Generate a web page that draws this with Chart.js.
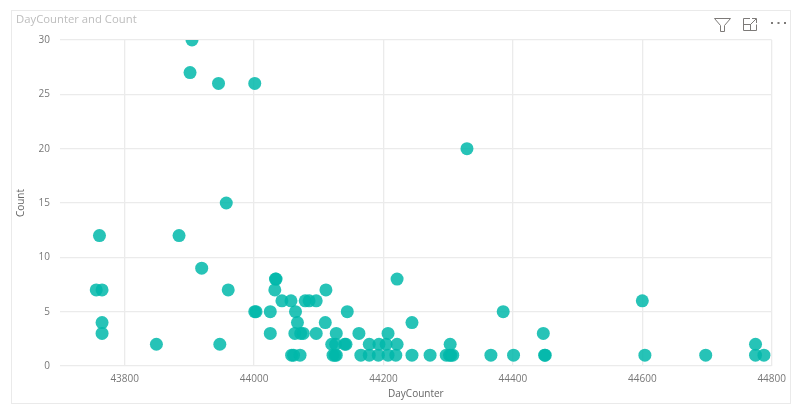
<!DOCTYPE html>
<html>
<head>
<meta charset="utf-8">
<title>DayCounter and Count</title>
<script src="https://cdn.jsdelivr.net/npm/chart.js@4"></script>
<style>
	html, body { margin: 0; padding: 0; background: #fff; }
	#wrap { position: relative; width: 804px; height: 416px; overflow: hidden; }
	#card { position: absolute; left: 11px; top: 10px; width: 778px; height: 392px; border: 1px solid #eaeaea; }
	#mycanvas { position: absolute; left: 0; top: 0; }
	#title { position: absolute; left: 16px; top: 11px; font: 11.3px "Open Sans", sans-serif; color: #bdbdbd; }
	#icons { position: absolute; left: 712px; top: 16px; }
</style>
</head>
<body>
<div id="wrap">
	<div id="card"></div>
	<canvas id="mycanvas" width="804" height="416"></canvas>
	<div id="title">DayCounter and Count</div>
	<svg id="icons" width="76" height="18" fill="none" stroke="#7d7a78" stroke-width="1">
		<path d="M2.5 2.5H18.5L12.5 9.5V15.5H8.5V9.5Z"/>
		<path d="M38 2.5H31.5V14.5H44.5V8.5M31.5 8.5H38.5V14.5M38 9L44 3M40 2.5H44.5V7"/>
		<g fill="#7d7a78" stroke="none">
			<rect x="59" y="6" width="2" height="2"/>
			<rect x="65.5" y="6" width="2" height="2"/>
			<rect x="72" y="6" width="2" height="2"/>
		</g>
	</svg>
</div>
<script>
var xTicks = [43800, 44000, 44200, 44400, 44600, 44800];
var yTicks = [0, 5, 10, 15, 20, 25, 30];

var dayCounter = [
	43904, 43901, 43945, 44001, 44329, 43957, 43761, 43884, 43919,
	43756, 43765, 43960, 43765, 43765, 43849, 43947,
	44033, 44034, 44221, 44032, 44111,
	44043, 44057, 44079, 44085, 44096,
	44001, 44003, 44025, 44064, 44144, 44385, 44600,
	44067, 44110, 44244,
	44025, 44063, 44072, 44076, 44096, 44127, 44162, 44207, 44447,
	44120, 44126, 44140, 44142, 44178, 44193, 44204, 44221, 44303, 44775,
	44058, 44061, 44071, 44122, 44125, 44127, 44165, 44178, 44192, 44207, 44219,
	44244, 44272, 44297, 44302, 44304, 44307, 44366, 44401, 44449, 44450,
	44604, 44698, 44775, 44788
];
var count = [
	30, 27, 26, 26, 20, 15, 12, 12, 9,
	7, 7, 7, 4, 3, 2, 2,
	8, 8, 8, 7, 7,
	6, 6, 6, 6, 6,
	5, 5, 5, 5, 5, 5, 6,
	4, 4, 4,
	3, 3, 3, 3, 3, 3, 3, 3, 3,
	2, 2, 2, 2, 2, 2, 2, 2, 2, 2,
	1, 1, 1, 1, 1, 1, 1, 1, 1, 1, 1,
	1, 1, 1, 1, 1, 1, 1, 1, 1, 1,
	1, 1, 1, 1
];

var points = [];
for(var i in dayCounter) {
	points.push({ x: dayCounter[i], y: count[i] });
}

var tickFont = { family: '"Open Sans", sans-serif', size: 10 };

var ctx = document.getElementById("mycanvas");
var chart = new Chart(ctx, {
	type: 'scatter',
	data: {
		datasets: [{
			label: 'Count',
			data: points,
			backgroundColor: 'rgba(1, 184, 170, 0.85)',
			borderWidth: 0,
			pointRadius: 6.5,
			pointHoverRadius: 6.5,
			clip: 0
		}]
	},
	options: {
		responsive: false,
		animation: false,
		layout: { padding: { top: 40, right: 32.3, left: 15, bottom: 16 } },
		plugins: { legend: { display: false }, tooltip: { enabled: false } },
		scales: {
			x: {
				type: 'linear',
				min: 43700,
				max: 44800,
				afterBuildTicks: function(scale) {
					scale.ticks = xTicks.map(function(v) { return { value: v }; });
				},
				afterFit: function(scale) { scale.height = 34; },
				grid: { color: '#ebebeb', lineWidth: 1.3, drawTicks: false },
				border: { display: false },
				ticks: {
					color: '#777777',
					font: tickFont,
					padding: 7,
					maxRotation: 0,
					autoSkip: false,
					callback: function(v) { return String(v); }
				},
				title: {
					display: true,
					text: 'DayCounter',
					color: '#666666',
					font: tickFont,
					padding: { top: 2, bottom: 0 }
				}
			},
			y: {
				min: 0,
				max: 30,
				afterBuildTicks: function(scale) {
					scale.ticks = yTicks.map(function(v) { return { value: v }; });
				},
				afterFit: function(scale) { scale.width = 45; },
				grid: { color: '#ebebeb', lineWidth: 1.3, drawTicks: false },
				border: { display: false },
				ticks: {
					color: '#777777',
					font: tickFont,
					padding: 10,
					autoSkip: false
				},
				title: {
					display: true,
					text: 'Count',
					color: '#666666',
					font: tickFont,
					padding: { top: 0, bottom: 0 }
				}
			}
		}
	}
});
</script>
</body>
</html>
